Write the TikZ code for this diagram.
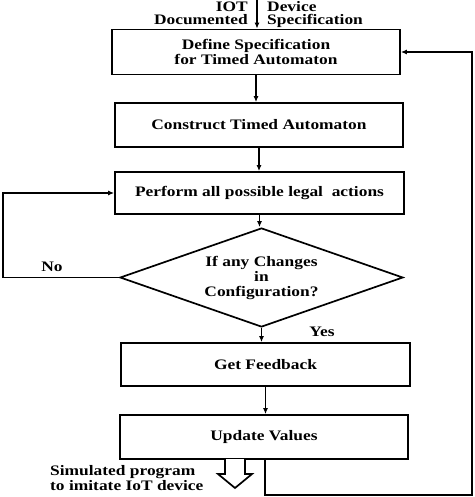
\documentclass[tikz,border=0pt]{standalone}
\usepackage{fontspec}
\setmainfont{Liberation Serif}[FakeStretch=1.2]
\usetikzlibrary{shapes.geometric,arrows.meta}
\begin{document}
\begin{tikzpicture}[x=1pt,y=-1pt,
  every node/.style={font=\fontsize{14.5}{15}\selectfont\bfseries},
  procbox/.style={draw,line width=1.7pt,inner sep=0pt,align=center},
  decision/.style={draw,line width=1.7pt,shape=diamond,inner sep=0pt,align=center},
  lbl/.style={inner sep=0pt},
  flow/.style={line width=1.4pt,-{Latex[length=6pt,width=5pt]}},
  line/.style={line width=1.7pt}]
\useasboundingbox (0,0) rectangle (474,497);
\node[procbox,minimum width=288pt,minimum height=45pt] (b1) at (256,52) {Define Specification\\for Timed Automaton};
\node[procbox,minimum width=288pt,minimum height=44pt] (b2) at (259,125) {Construct Timed Automaton};
\node[procbox,minimum width=289pt,minimum height=42pt] (b3) at (259.5,193) {Perform all possible legal\ \ actions};
\node[decision,minimum width=283pt,minimum height=99pt,aspect=2.86] (d) at (261.5,277.5) {\fontsize{14.5}{14}\selectfont If any Changes\\in\\Configuration?};
\node[procbox,minimum width=289pt,minimum height=43pt] (b4) at (265.5,364.5) {Get Feedback};
\node[procbox,minimum width=288pt,minimum height=44pt] (b5) at (264,437) {Update Values};
% top input
\coordinate (top) at (257,0);
\draw[flow] (top) -- (top |- b1.north);
\node[lbl,align=right,anchor=north east,font=\fontsize{14.5}{13}\selectfont\bfseries] (t1) at (248,1.5) {IOT\\Documented};
\node[lbl,align=left,anchor=north west,font=\fontsize{14.5}{13}\selectfont\bfseries] (t2) at (267,1.5) {Device\\Specification};
% main flow
\draw[flow] (b1.south) -- (b1.south |- b2.north);
\draw[flow] (b2.south) -- (b2.south |- b3.north);
\draw[flow] (b3.south) -- (b3.south |- d.north);
\draw[flow] (d.south) -- (d.south |- b4.north);
\draw[flow] (b4.south) -- (b4.south |- b5.north);
\node[lbl] (yes) at (322,332) {Yes};
% no loop
\coordinate (nl) at (3,277.5);
\draw[line,-{Latex[length=6pt,width=5pt]}] (d.west) -- (nl) |- (b3.west);
\node[lbl] (no) at (52,267) {No};
% feedback loop
\coordinate (fb1) at (265,495);
\coordinate (fb2) at (472,495);
\draw[line,-{Latex[length=6pt,width=5pt]}] (b5.south -| fb1) -- (fb1) -- (fb2) |- (b1.east);
% output hollow arrow
\draw[line width=1.7pt,fill=white] (225,459) -- (225,474) -- (218,474) -- (235,488) -- (252,474) -- (245,474) -- (245,459);
\node[lbl,align=left,anchor=west] (out) at (50,478) {Simulated program\\to imitate IoT device};
\end{tikzpicture}
\end{document}
